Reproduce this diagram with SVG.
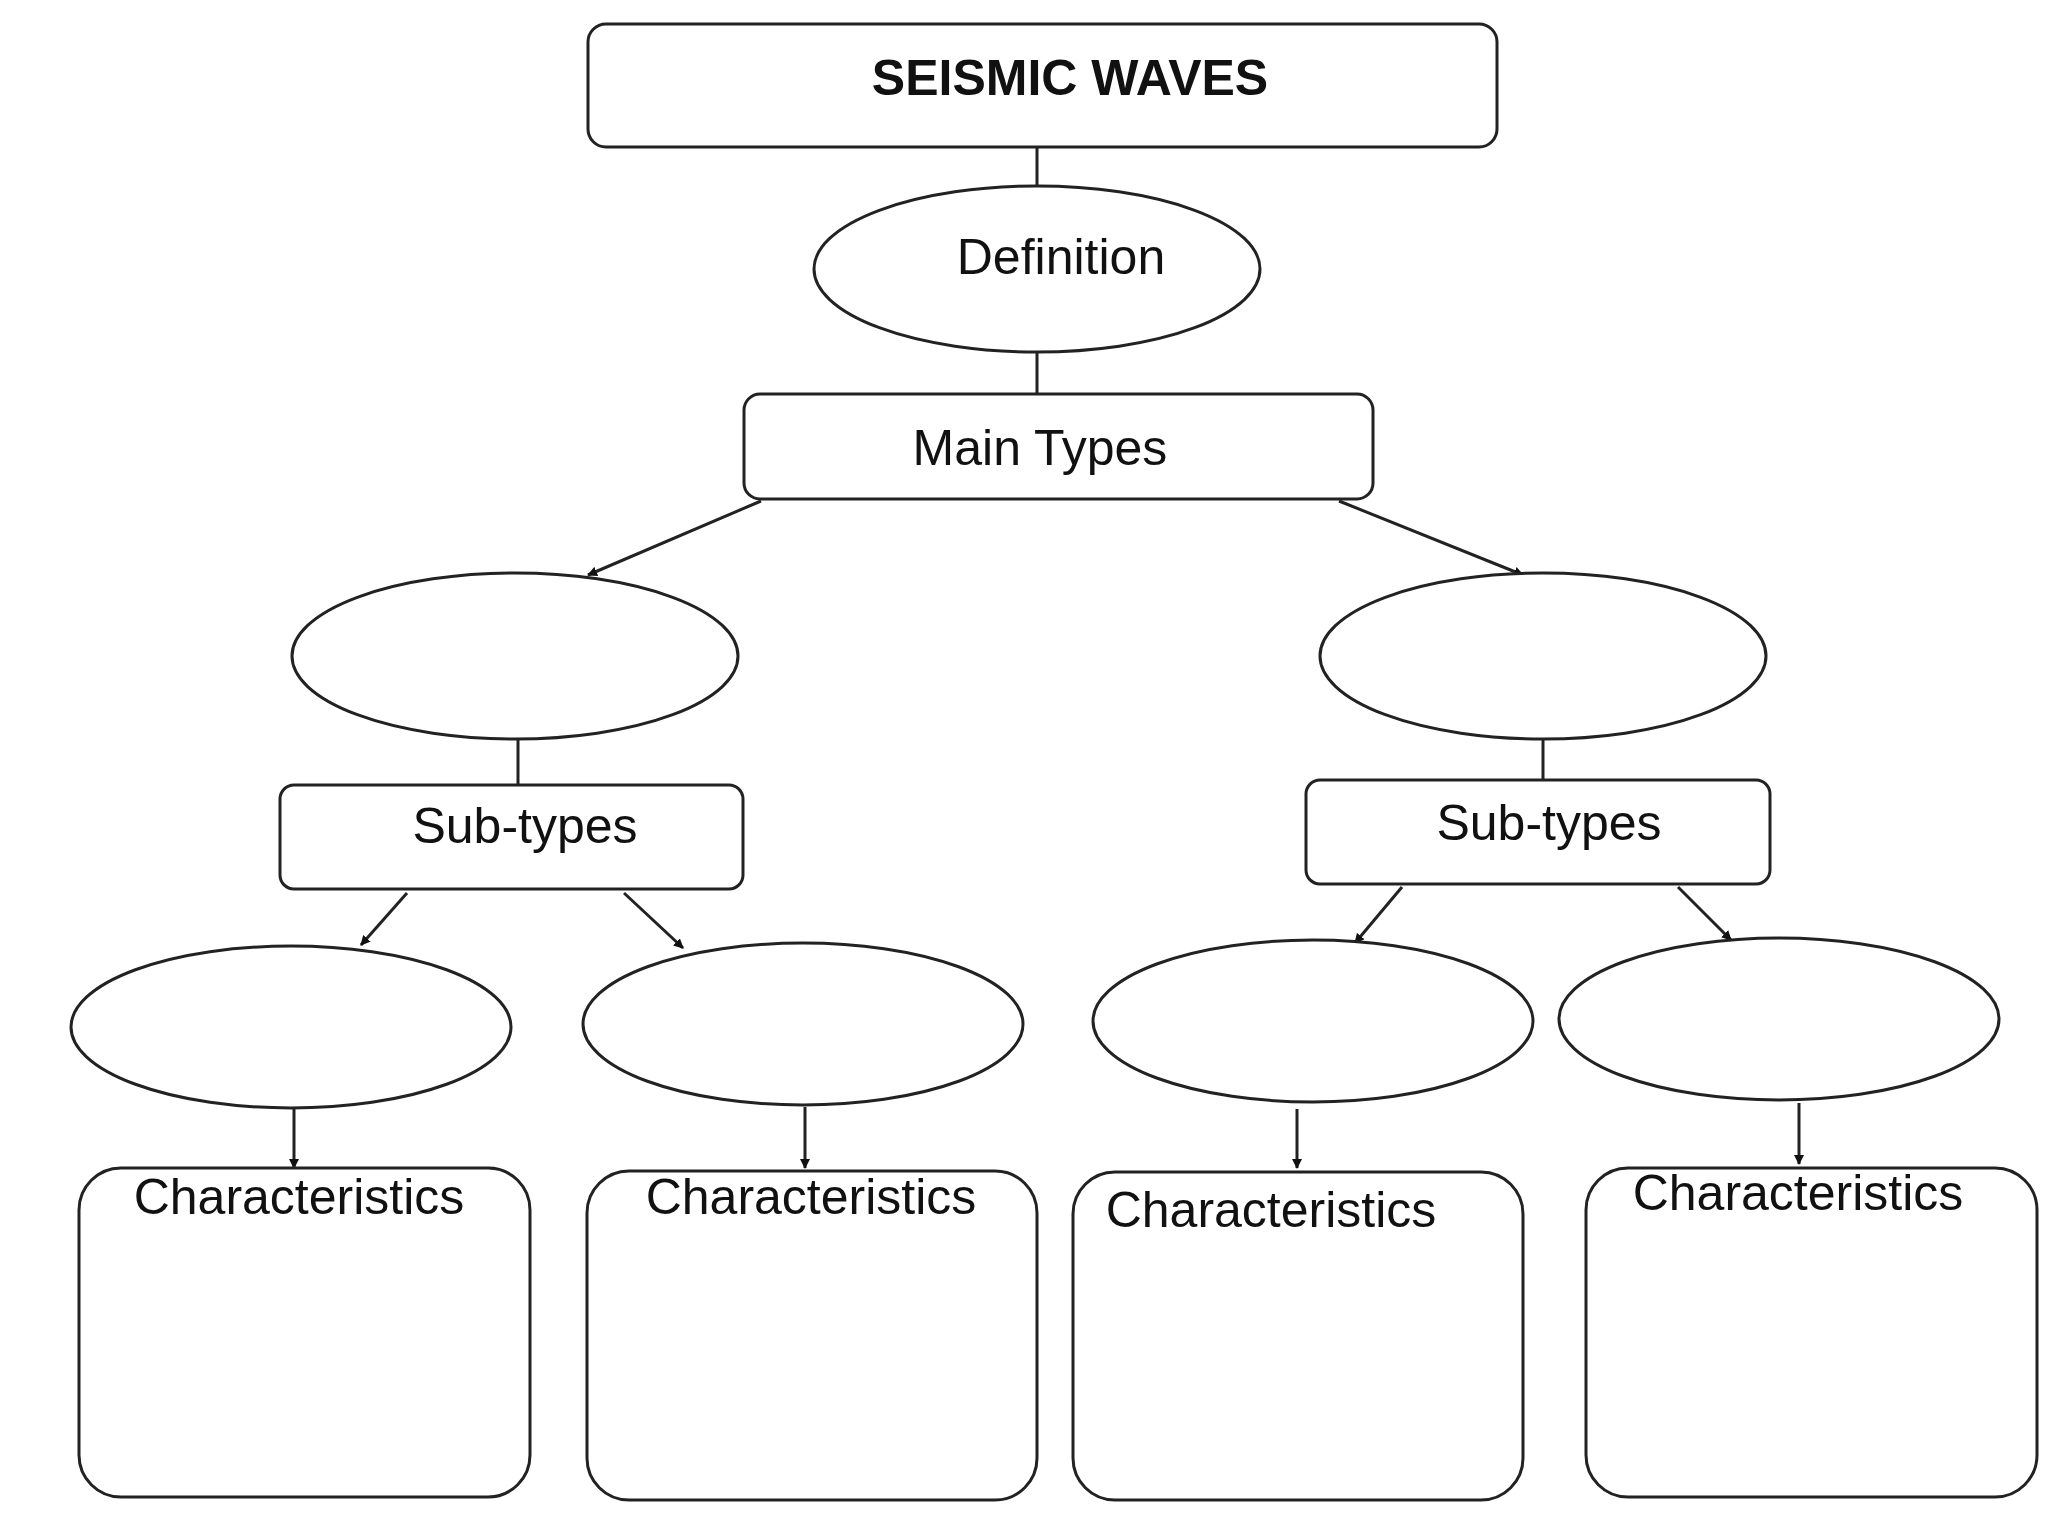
<svg xmlns="http://www.w3.org/2000/svg" width="2048" height="1536" viewBox="0 0 2048 1536">
<style>
.s{fill:#fff;stroke:#222;stroke-width:3}
.t{font-family:"Liberation Sans",Arial,sans-serif;font-size:50px;fill:#111;text-anchor:middle;dominant-baseline:middle}
.c{stroke:#222;stroke-width:3;fill:none}
</style>
<defs><marker id="a" markerWidth="10" markerHeight="10" refX="9" refY="5" orient="auto" markerUnits="userSpaceOnUse" viewBox="0 0 10 10"><path d="M0,0L10,5L0,10z" fill="#111"/></marker></defs>
<rect width="2048" height="1536" fill="#fff"/>
<g id="connectors">
<line class="c" x1="1037" y1="147" x2="1037" y2="186"/>
<line class="c" x1="1037" y1="352" x2="1037" y2="394"/>
<line class="c" x1="761" y1="501" x2="588" y2="575" marker-end="url(#a)" style="marker-end:url(#a)"/>
<line class="c" x1="1339" y1="501" x2="1523" y2="575" marker-end="url(#a)"/>
<line class="c" x1="518" y1="739" x2="518" y2="785"/>
<line class="c" x1="1543" y1="739" x2="1543" y2="780"/>
<line class="c" x1="407" y1="893" x2="361" y2="945" marker-end="url(#a)"/>
<line class="c" x1="624" y1="893" x2="683" y2="948" marker-end="url(#a)"/>
<line class="c" x1="1402" y1="887" x2="1355" y2="943" marker-end="url(#a)"/>
<line class="c" x1="1678" y1="887" x2="1731" y2="940" marker-end="url(#a)"/>
<line class="c" x1="294" y1="1109" x2="294" y2="1168" marker-end="url(#a)"/>
<line class="c" x1="805" y1="1107" x2="805" y2="1168" marker-end="url(#a)"/>
<line class="c" x1="1297" y1="1109" x2="1297" y2="1168" marker-end="url(#a)"/>
<line class="c" x1="1799" y1="1103" x2="1799" y2="1164" marker-end="url(#a)"/>
</g>
<g id="title"><rect class="s" x="588" y="24" width="909" height="123" rx="18"/><text class="t" x="1070" y="82" font-weight="bold" style="font-weight:bold">SEISMIC WAVES</text></g>
<g id="definition"><ellipse class="s" cx="1037" cy="269" rx="223" ry="83"/><text class="t" x="1061" y="261">Definition</text></g>
<g id="maintypes"><rect class="s" x="744" y="394" width="629" height="105" rx="16"/><text class="t" x="1040" y="452">Main Types</text></g>
<g id="typeL"><ellipse class="s" cx="515" cy="656" rx="223" ry="83"/></g>
<g id="typeR"><ellipse class="s" cx="1543" cy="656" rx="223" ry="83"/></g>
<g id="subL"><rect class="s" x="280" y="785" width="463" height="104" rx="14"/><text class="t" x="525" y="830">Sub-types</text></g>
<g id="subR"><rect class="s" x="1306" y="780" width="464" height="104" rx="14"/><text class="t" x="1549" y="827">Sub-types</text></g>
<g id="e1"><ellipse class="s" cx="291" cy="1027" rx="220" ry="81"/></g>
<g id="e2"><ellipse class="s" cx="803" cy="1024" rx="220" ry="81"/></g>
<g id="e3"><ellipse class="s" cx="1313" cy="1021" rx="220" ry="81"/></g>
<g id="e4"><ellipse class="s" cx="1779" cy="1019" rx="220" ry="81"/></g>
<g id="c1"><rect class="s" x="79" y="1168" width="451" height="329" rx="42"/><text class="t" x="299" y="1201">Characteristics</text></g>
<g id="c2"><rect class="s" x="587" y="1171" width="450" height="329" rx="42"/><text class="t" x="811" y="1201">Characteristics</text></g>
<g id="c3"><rect class="s" x="1073" y="1172" width="450" height="328" rx="42"/><text class="t" x="1271" y="1214">Characteristics</text></g>
<g id="c4"><rect class="s" x="1586" y="1168" width="451" height="329" rx="42"/><text class="t" x="1798" y="1197">Characteristics</text></g>
</svg>
